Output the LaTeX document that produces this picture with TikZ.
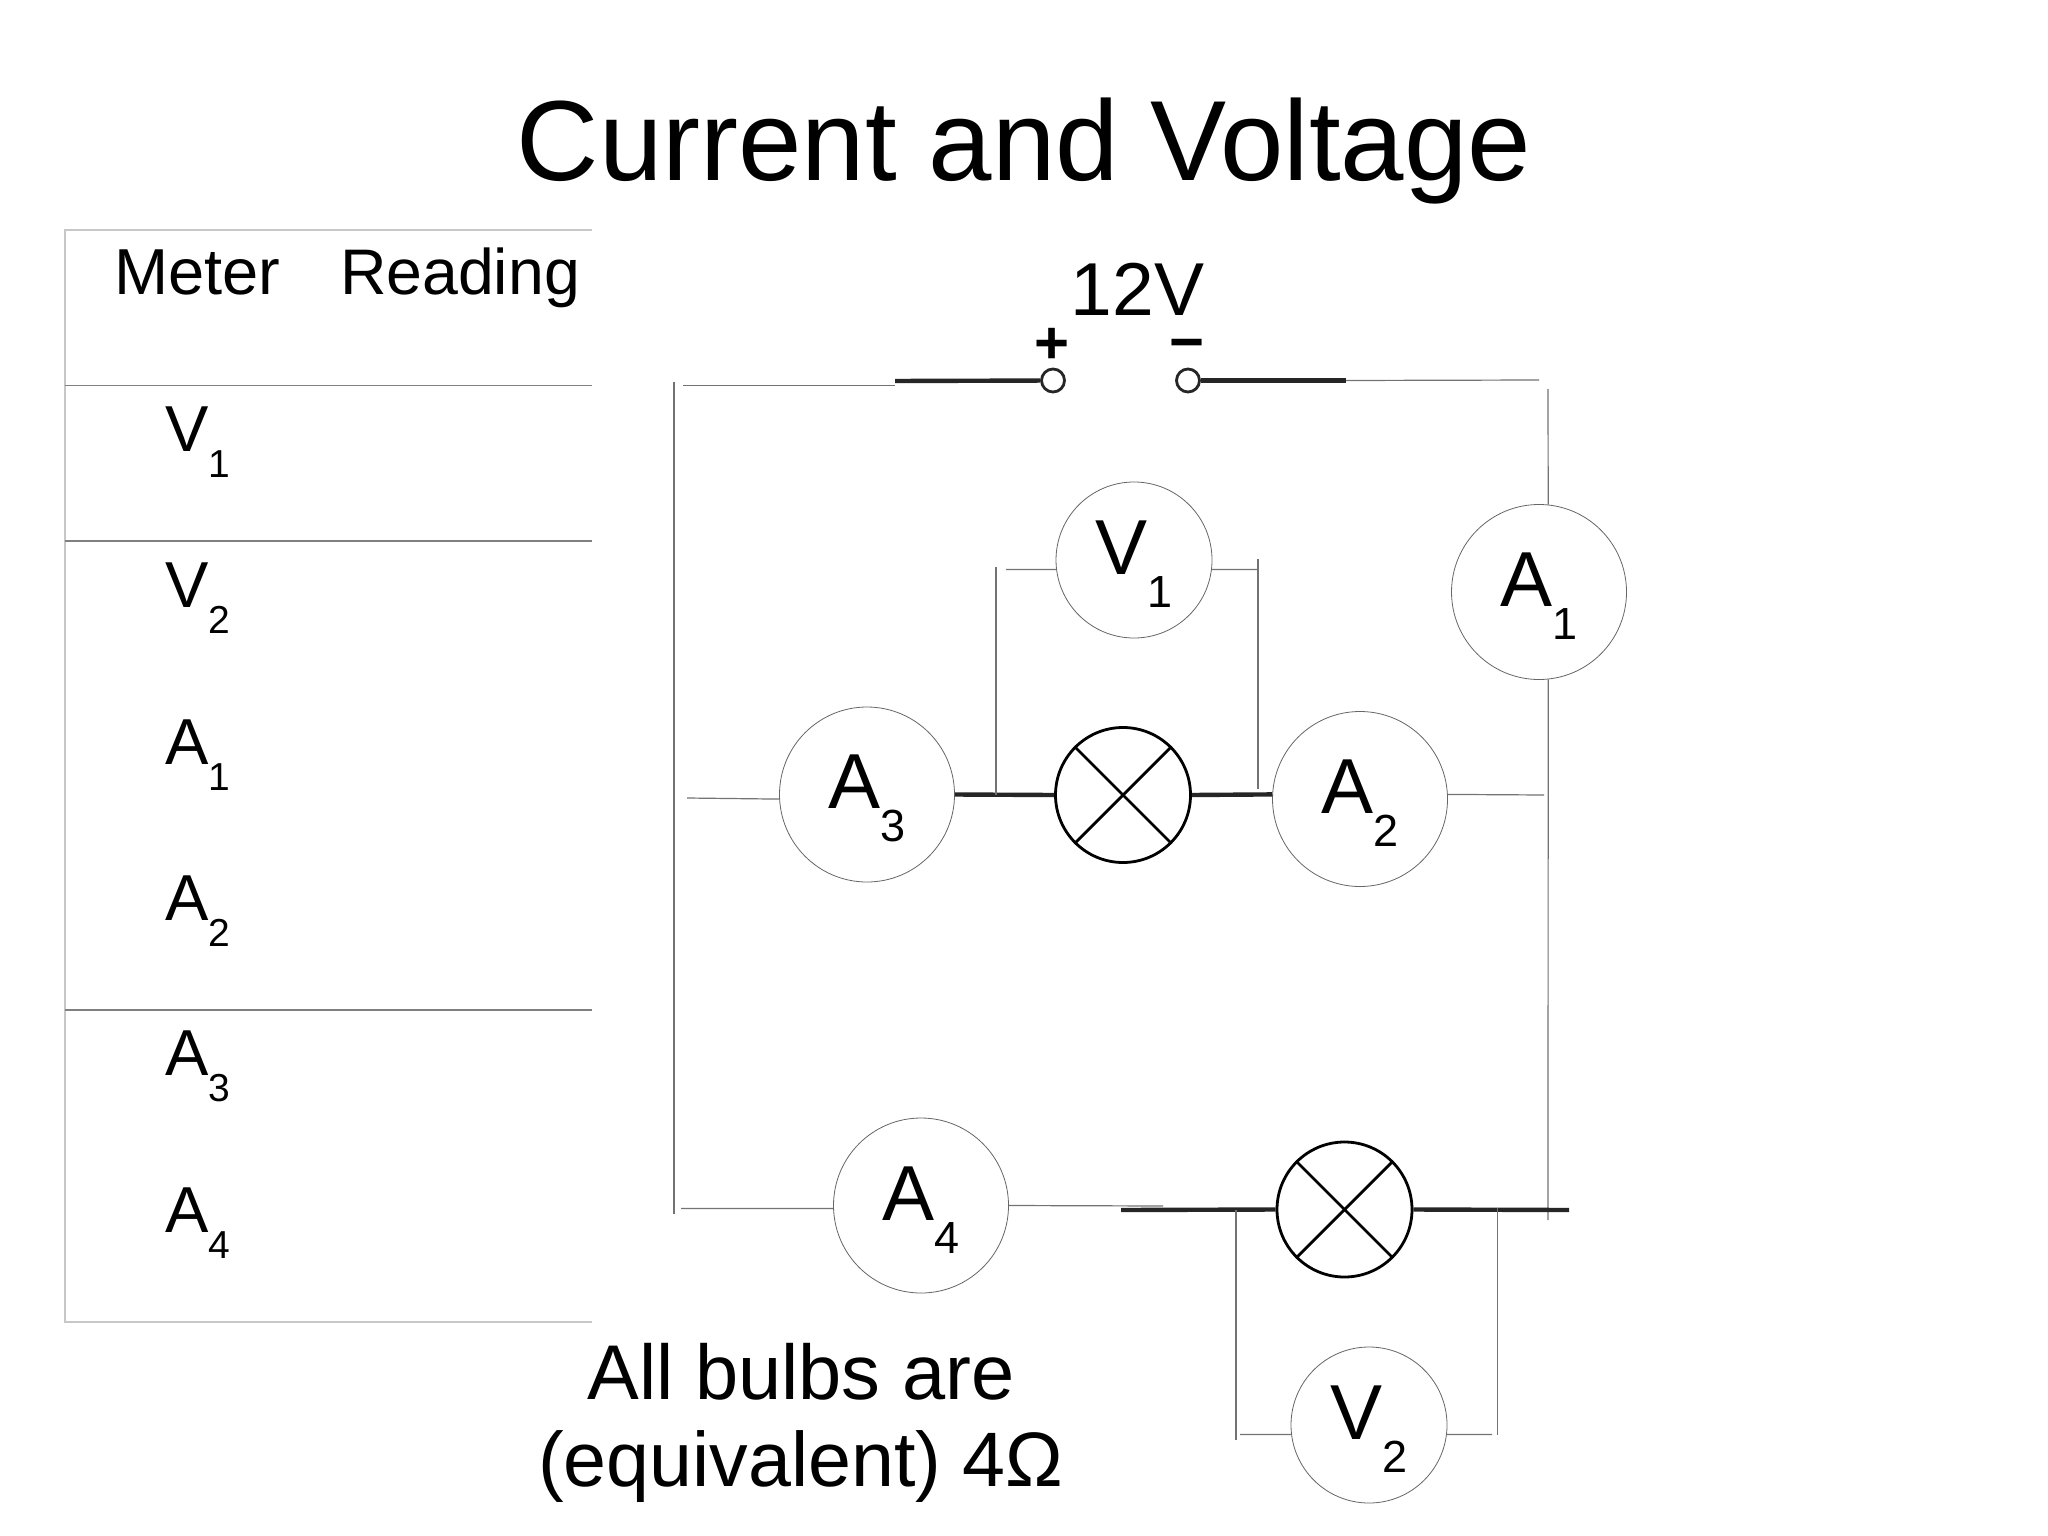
\documentclass[tikz,border=0pt]{standalone}
\usepackage{fontspec}
\setmainfont{Liberation Sans}
\newcommand{\fsz}[1]{\fontsize{#1pt}{#1pt}\selectfont}
\newcommand{\meter}[5]{{\fsz{#3}#1\raisebox{-#5pt}{\fsz{#4}#2}}}
\newcommand{\cm}[2]{\rule{0pt}{31pt}\meter{#1}{#2}{39}{22.5}{16.5}}
\newcommand{\tm}[2]{\meter{#1}{#2}{32.5}{19.5}{13}}
\tikzset{
  wire/.style={draw=black!55,line width=0.6pt},
  rule/.style={draw=black!50,line width=0.6pt},
  edge/.style={draw=black!22,line width=0.7pt},
  lead/.style={draw=black!85,line width=2.2pt},
  ammeter/.style={circle,draw=black!60,line width=0.4pt,fill=white,minimum size=87.5pt,inner sep=0pt},
  voltmeter/.style={ammeter,minimum size=78pt},
  bulb/.style={circle,draw=black,line width=1.4pt,fill=white,minimum size=67.5pt,inner sep=0pt},
  terminal/.style={circle,draw=black!85,line width=1.4pt,fill=white,minimum size=11.5pt,inner sep=0pt},
  txt/.style={anchor=base west,inner sep=0pt,outer sep=0pt},
  ctxt/.style={anchor=base,inner sep=0pt,outer sep=0pt,align=center},
  sign/.style={inner sep=0pt,outer sep=0pt}
}
\begin{document}
\begin{tikzpicture}[x=0.5pt,y=-0.5pt]
\useasboundingbox (0,0) rectangle (2048,1535);
\fill[white] (0,0) rectangle (2048,1535);
% title
\node[ctxt] (title) at (1024,181) {\fsz{57}Current and Voltage};
% table
\coordinate (tl) at (65,230); \coordinate (tr) at (592,230);
\coordinate (bl) at (65,1322); \coordinate (br) at (592,1322);
\coordinate (r1l) at (65,385.5); \coordinate (r1r) at (592,385.5);
\coordinate (r2l) at (65,541); \coordinate (r2r) at (592,541);
\coordinate (r3l) at (65,1010); \coordinate (r3r) at (592,1010);
\draw[edge] (tr) -- (tl) -- (bl) -- (br);
\draw[rule] (r1l) -- (r1r);
\draw[rule] (r2l) -- (r2r);
\draw[rule] (r3l) -- (r3r);
\node[txt] (hmeter) at (114,295) {\fsz{32.5}Meter};
\node[txt] (hreading) at (340,295) {\fsz{32.2}Reading};
\node[txt] (t1) at (165,451) {\tm{V}{1}};
\node[txt] (t2) at (165,607.5) {\tm{V}{2}};
\node[txt] (t3) at (165,764) {\tm{A}{1}};
\node[txt] (t4) at (165,920.5) {\tm{A}{2}};
\node[txt] (t5) at (165,1075) {\tm{A}{3}};
\node[txt] (t6) at (165,1232) {\tm{A}{4}};
% meters
\node[ammeter] (A1) at (1539,592) {\cm{A}{1}};
\node[ammeter] (A2) at (1360,799) {\cm{A}{2}};
\node[ammeter] (A3) at (867,794.5) {\cm{A}{3}};
\node[ammeter] (A4) at (921,1205.5) {\cm{A}{4}};
\node[voltmeter] (V1) at (1134,560) {\cm{V}{1}};
\node[voltmeter] (V2) at (1369,1425) {\cm{V}{2}};
\node[bulb] (B1) at (1123,795) {};
\node[bulb] (B2) at (1344.5,1209.5) {};
\draw[line width=1.4pt] (B1.45) -- (B1.225) (B1.135) -- (B1.315);
\draw[line width=1.4pt] (B2.45) -- (B2.225) (B2.135) -- (B2.315);
% battery
\node[terminal] (P) at (1053,380.5) {};
\node[terminal] (N) at (1188,380.5) {};
\node[sign] (plus) at (1052,346) {\fsz{30}\bfseries +};
\node[sign] (minus) at (1187,351) {\fsz{30}\bfseries −};
\node[ctxt] (volt) at (1137.5,316) {\fsz{37.5}12V};
\node[ctxt] (note1) at (801,1399) {\fsz{38.8}All bulbs are};
\node[ctxt] (note2) at (801,1486) {\fsz{38.6}(equivalent) 4Ω};
% wires
\coordinate (ltop) at (674,381.5); \coordinate (lbot) at (674,1214);
\coordinate (rtop) at (1548,389); \coordinate (rbot) at (1548,1220);
\coordinate (pt) at (683,385.5); \coordinate (pm) at (895,385.5); \coordinate (pth) at (895,381);
\coordinate (nth) at (1346,380.5); \coordinate (ne) at (1539,380);
\draw[wire] (ltop) -- (lbot);
\draw[wire] (pt) -- (pm);
\draw[lead] (pth) -- (P);
\draw[lead] (N) -- (nth);
\draw[wire] (nth) -- (ne);
\draw[wire] (rtop) -- (A1.84);
\draw[wire] (A1.276) -- (rbot);
\coordinate (a3e) at (687,798); \coordinate (a2e) at (1544,795);
\draw[wire] (a3e) -- (A3.183);
\draw[lead] (A3.east) -- (B1.west);
\draw[lead] (B1.east) -- (A2.177);
\draw[wire] (A2.3) -- (a2e);
\coordinate (v1a) at (996,567); \coordinate (v1b) at (996,795);
\coordinate (v1c) at (1258,559); \coordinate (v1d) at (1258,789);
\coordinate (v1e) at (1006,569.5); \coordinate (v1f) at (1258,569.5);
\draw[wire] (v1a) -- (v1b);
\draw[wire] (v1c) -- (v1d);
\draw[wire] (v1e) -- (V1.187);
\draw[wire] (V1.-7) -- (v1f);
\coordinate (a4l) at (681,1208.5); \coordinate (a4r) at (1163,1206);
\coordinate (l2a) at (1121,1210); \coordinate (l2b) at (1569,1210);
\draw[wire] (a4l) -- (A4.182);
\draw[wire] (A4.east) -- (a4r);
\draw[lead] (l2a) -- (B2.west);
\draw[lead] (B2.east) -- (l2b);
\coordinate (v2a) at (1236,1210); \coordinate (v2b) at (1236,1440);
\coordinate (v2c) at (1497.5,1208); \coordinate (v2d) at (1497.5,1434.5);
\coordinate (v2e) at (1240,1434.5); \coordinate (v2f) at (1492,1434.5);
\draw[wire] (v2a) -- (v2b);
\draw[wire] (v2c) -- (v2d);
\draw[wire] (v2e) -- (V2.187);
\draw[wire] (V2.-7) -- (v2f);
\end{tikzpicture}
\end{document}
